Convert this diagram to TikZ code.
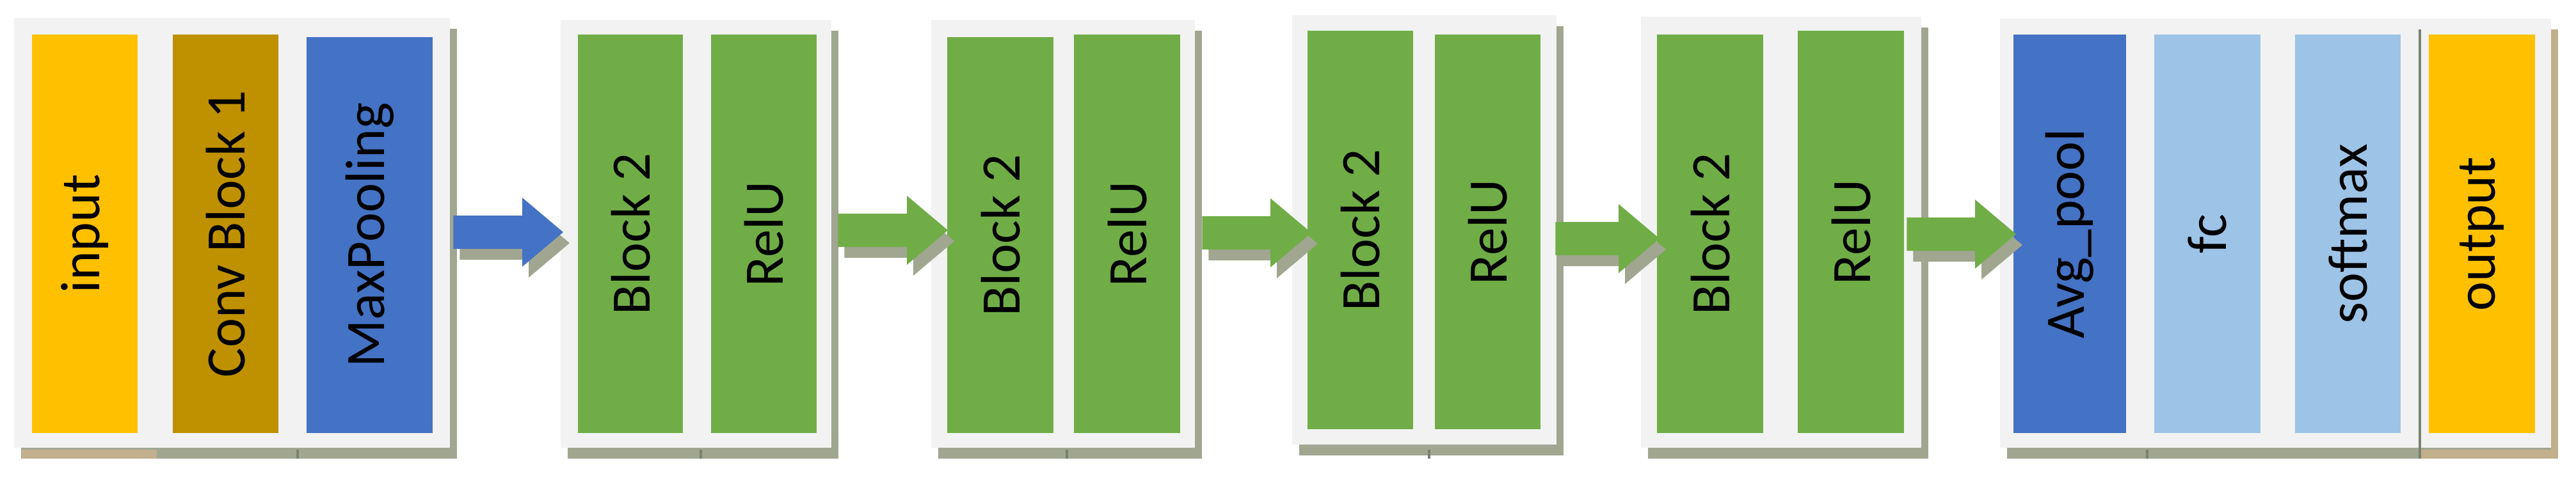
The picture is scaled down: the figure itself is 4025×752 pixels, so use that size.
\documentclass[tikz,border=0pt]{standalone}
\usepackage{fontspec}
\usepackage{graphicx}
\setmainfont{Carlito}
\usetikzlibrary{calc,shadows}
\definecolor{cyellow}{HTML}{FFC000}
\definecolor{cgold}{HTML}{BF9000}
\definecolor{cblue}{HTML}{4472C4}
\definecolor{cgreen}{HTML}{70AD47}
\definecolor{clblue}{HTML}{9DC3E6}
\definecolor{cpanel}{HTML}{F1F2F1}
\definecolor{cshadow}{HTML}{A0A690}
\definecolor{ctan}{HTML}{C2B08C}
\definecolor{ctick}{HTML}{7A8270}
\tikzset{
  panel/.style={fill=cpanel, draw=none, inner sep=0pt, anchor=north west,
    drop shadow={shadow xshift=11pt, shadow yshift=-17pt, fill=cshadow, opacity=1}},
  layer/.style={draw=none, inner sep=0pt, anchor=north west,
    font=\fontsize{87}{90}\selectfont, text=black},
  ashadow/.style={fill=cshadow},
  tick/.style={fill=ctick},
}
% block arrow: #1 colour, #2 start point, #3 tip point, #4 centre y
\newcommand\blkarrow[4]{%
  \fill[ashadow] let \p1=(#2), \p2=(#3), \p3=(0,#4) in
    (\x1+10pt,\y3+9pt) -- (\x2-54pt,\y3+9pt) -- (\x2-54pt,\y3+37pt) --
    (\x2+10pt,\y3-17pt) -- (\x2-54pt,\y3-71pt) -- (\x2-54pt,\y3-43pt) --
    (\x1+10pt,\y3-43pt) -- cycle;
  \fill[#1] let \p1=(#2), \p2=(#3), \p3=(0,#4) in
    (\x1,\y3+26pt) -- (\x2-64pt,\y3+26pt) -- (\x2-64pt,\y3+54pt) --
    (\x2,\y3) -- (\x2-64pt,\y3-54pt) -- (\x2-64pt,\y3-26pt) --
    (\x1,\y3-26pt) -- cycle;
}
\begin{document}
\begin{tikzpicture}[x=1pt,y=-1pt]
\useasboundingbox (0,0) rectangle (4025,752);
\fill[white] (0,0) rectangle (4025,752);

% panels
\node[panel, minimum width=681, minimum height=672] (p1) at (22,28) {};
\node[panel, minimum width=423, minimum height=669] (p2) at (876,31) {};
\node[panel, minimum width=412, minimum height=669] (p3) at (1455,31) {};
\node[panel, minimum width=413, minimum height=671] (p4) at (2019,24) {};
\node[panel, minimum width=438, minimum height=674] (p5) at (2564,26) {};
\node[panel, minimum width=861, minimum height=671] (p6) at (3125,29) {};

% shadow tints and seams
\fill[ctan] (34,703) rectangle (245,717);
\fill[ctan] (3781,703) rectangle (3997,717);
\fill[ctan] (3986,46) rectangle (3997,717);
\fill[ctick] (3779,46) rectangle (3783,717);
\foreach \tx in {465,1095,1667,2233,3355}
  \fill[tick] (\tx-2,703) rectangle (\tx+2,717);

% layers
\node[layer, fill=cyellow, minimum width=165, minimum height=623] (in) at (50,54) {\rotatebox{90}{input}};
\node[layer, fill=cgold, minimum width=165, minimum height=623] (cv) at (270,54) {\rotatebox{90}{Conv Block 1}};
\node[layer, fill=cblue, minimum width=197, minimum height=619] (mp) at (479,58) {\rotatebox{90}{MaxPooling}};

\node[layer, fill=cgreen, minimum width=164, minimum height=623] (b1) at (903,54) {\rotatebox{90}{Block 2}};
\node[layer, fill=cgreen, minimum width=165, minimum height=623] (r1) at (1111,54) {\rotatebox{90}{RelU}};

\node[layer, fill=cgreen, minimum width=166, minimum height=619] (b2) at (1480,58) {\rotatebox{90}{Block 2}};
\node[layer, fill=cgreen, minimum width=166, minimum height=623] (r2) at (1678,54) {\rotatebox{90}{RelU}};

\node[layer, fill=cgreen, minimum width=165, minimum height=623] (b3) at (2043,48) {\rotatebox{90}{Block 2}};
\node[layer, fill=cgreen, minimum width=165, minimum height=617] (r3) at (2242,54) {\rotatebox{90}{RelU}};

\node[layer, fill=cgreen, minimum width=166, minimum height=623] (b4) at (2589,54) {\rotatebox{90}{Block 2}};
\node[layer, fill=cgreen, minimum width=166, minimum height=629] (r4) at (2809,48) {\rotatebox{90}{RelU}};

\node[layer, fill=cblue, minimum width=176, minimum height=623] (avg) at (3146,54) {\rotatebox{90}{Avg\_pool}};
\node[layer, fill=clblue, minimum width=166, minimum height=623] (fc) at (3366,54) {\rotatebox{90}{fc}};
\node[layer, fill=clblue, minimum width=165, minimum height=623] (sm) at (3586,54) {\rotatebox{90}{softmax}};
\node[layer, fill=cyellow, minimum width=166, minimum height=623] (out) at (3795,54) {\rotatebox{90}{output}};

% arrows
\blkarrow{cblue}{$(mp.east)+(32,0)$}{$(b1.west)+(-23,0)$}{363}
\blkarrow{cgreen}{$(r1.east)+(33,0)$}{$(b2.west)+(1,0)$}{360}
\blkarrow{cgreen}{$(r2.east)+(34,0)$}{$(b3.west)+(6,0)$}{364}
\blkarrow{cgreen}{$(r3.east)+(23,0)$}{$(b4.west)+(4,0)$}{373}
\blkarrow{cgreen}{$(r4.east)+(4,0)$}{$(avg.west)+(4,0)$}{366}
\end{tikzpicture}
\end{document}
